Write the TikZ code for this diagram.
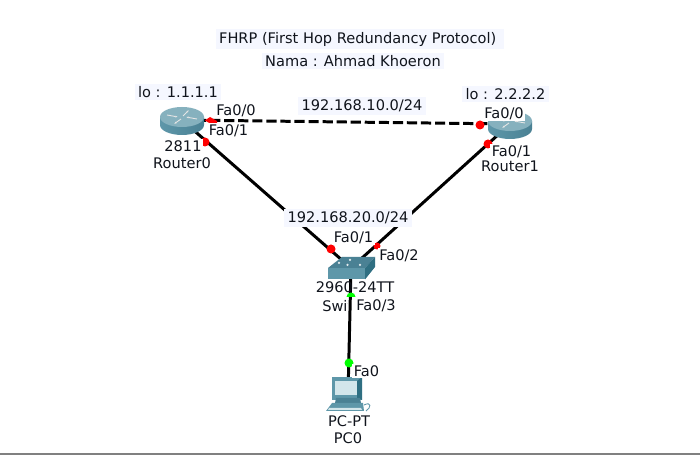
\documentclass[tikz,border=0pt]{standalone}
\usepackage{fontspec}
\setmainfont{DejaVu Sans}
\usetikzlibrary{arrows.meta}
\definecolor{labelbg}{HTML}{F5F7FF}
\definecolor{tealdark}{HTML}{4A8194}
\definecolor{tealmid}{HTML}{5E97A9}
\definecolor{teallight}{HTML}{D3E6EB}
\definecolor{tealside}{HTML}{2F6F82}
\definecolor{textcol}{HTML}{10141C}
\tikzset{
  device/.style={inner sep=0pt,minimum size=0pt,outer sep=0pt},
  txt/.style={font=\fontsize{8.3}{10}\selectfont,text=textcol,inner sep=0.8pt},
  devlabel/.style={txt},
  portlabel/.style={txt,fill=white},
  note/.style={txt,fill=labelbg,inner ysep=1.6pt,inner xsep=2pt},
  link/.style={line width=1.7pt,draw=black},
  dashlink/.style={link,dash pattern=on 5.8pt off 2.2pt},
  router/.pic={
    \shade[left color=tealmid,middle color=teallight,right color=tealdark]
      (-0.44,0.06) -- (-0.44,-0.1) arc (180:360:0.44 and 0.2) -- (0.44,0.06) -- cycle;
    \fill[tealmid!75!white] (0,0.06) ellipse (0.44 and 0.2);
    \draw[white!90!black,line width=0.5pt,-{Latex[length=1.5pt]}] (-0.3,0.1)--(-0.08,0.06);
    \draw[white!90!black,line width=0.5pt,-{Latex[length=1.5pt]}] (0.3,0.02)--(0.08,0.06);
    \draw[white!90!black,line width=0.5pt,-{Latex[length=1.5pt]}] (0.02,0.08)--(0.14,0.2);
    \draw[white!90!black,line width=0.5pt,-{Latex[length=1.5pt]}] (-0.02,0.02)--(-0.16,-0.08);
  },
}
\begin{document}
\begin{tikzpicture}
\useasboundingbox (0,0) rectangle (14,9.1);
\fill[white] (0,0) rectangle (14,9.1);
\draw[gray,line width=0.6pt] (0,0.02)--(14,0.02);

\node[device] (router0) at (3.64,6.7) {};
\node[device] (router1) at (10.2,6.62) {};
\node[device] (switch0) at (7.02,3.74) {};
\node[device] (pc0) at (6.96,1.2) {};

% these two lie under the link
\node[devlabel] (namesw) at (7.02,2.98) {Switch0};
\node[portlabel] (swf3) at (7.45,2.98) {\hspace{4pt}Fa0/3};

% links
\draw[dashlink] (router0)--(router1);
\draw[link] (router0)--(switch0);
\draw[link] (router1)--(switch0);
\draw[link] (switch0)--(pc0);

% devices
\pic at (router0) {router};
\pic at (router1) {router};

\fill[tealmid] (6.56,3.74)--(7.3,3.74)--(7.3,3.51)--(6.56,3.51)--cycle;
\fill[tealdark] (6.56,3.74)--(6.84,3.96)--(7.5,3.96)--(7.3,3.74)--cycle;
\fill[tealside] (7.3,3.74)--(7.5,3.96)--(7.5,3.76)--(7.3,3.51)--cycle;
\foreach \x/\y in {6.78/3.84,7.0/3.9,7.2/3.8,6.95/3.8}
  \fill[white!85!tealdark] (\x,\y) circle (0.025);

\fill[tealmid] (6.64,1.56)--(7.24,1.56)--(7.24,1.1)--(6.64,1.1)--cycle;
\fill[teallight] (6.69,1.48)--(7.14,1.48)--(7.14,1.2)--(6.69,1.2)--cycle;
\fill[tealside] (7.14,1.48)--(7.24,1.56)--(7.24,1.1)--(7.14,1.14)--cycle;
\fill[tealdark] (6.72,1.14)--(7.2,1.14)--(7.22,1.04)--(6.7,1.04)--cycle;
\fill[tealmid] (6.64,1.04)--(7.26,1.04)--(7.28,0.88)--(6.52,0.88)--cycle;
\fill[teallight] (6.58,0.94)--(7.22,0.94)--(7.24,0.9)--(6.56,0.9)--cycle;
\draw[tealmid,line width=0.5pt] (7.28,1.0)..controls (7.44,1.08) and (7.42,0.94)..(7.32,0.88);

% port dots
\fill[red] (4.1,6.69)--(4.2,6.76)--(4.34,6.68)--(4.34,6.63)--(4.2,6.63)--cycle;
\fill[red] (4.1,6.26) circle (0.09);
\fill[red] (9.6,6.6) circle (0.09);
\fill[red] (9.76,6.22) circle (0.09);
\fill[red] (6.62,4.12) circle (0.09);
\fill[red] (7.54,4.18) circle (0.07);
\fill[green] (6.93,3.16) arc (180:0:0.09) -- cycle;
\fill[green] (6.98,1.84) circle (0.09);

% device labels
\node[devlabel,fill=white] (model0) at (3.66,6.18) {2811};
\node[devlabel] (name0) at (3.64,5.84) {Router0};
\node[devlabel] (model1) at (10.22,6.1) {2811};
\node[devlabel] (name1) at (10.2,5.78) {Router1};
\node[devlabel] (modelsw) at (7.1,3.35) {2960-24TT};
\node[devlabel] (modelpc) at (6.98,0.68) {PC-PT};
\node[devlabel] (namepc) at (6.96,0.34) {PC0};

% port labels
\node[portlabel] (r0f0) at (4.72,6.89) {Fa0/0};
\node[portlabel] (r0f1) at (4.57,6.48) {Fa0/1};
\node[portlabel] (r1f0) at (10.08,6.82) {Fa0/0};
\node[portlabel] (r1f1) at (10.23,6.06) {Fa0/1};
\node[portlabel] (swf1) at (7.07,4.34) {Fa0/1};
\node[portlabel] (swf2) at (7.98,3.98) {Fa0/2};
\node[portlabel] (pcf0) at (7.33,1.68) {Fa0};

% notes
\node[note] (title) at (7.2,8.32) {FHRP (First Hop Redundancy Protocol)\ \ };
\node[note] (nama) at (7.06,7.88) {Nama : Ahmad Khoeron};
\node[note] (lo0) at (3.56,7.26) {lo : 1.1.1.1};
\node[note] (lo1) at (10.11,7.22) {lo : 2.2.2.2};
\node[note] (net10) at (7.24,6.98) {192.168.10.0/24};
\node[note] (net20) at (6.96,4.74) {192.168.20.0/24};
\end{tikzpicture}
\end{document}
